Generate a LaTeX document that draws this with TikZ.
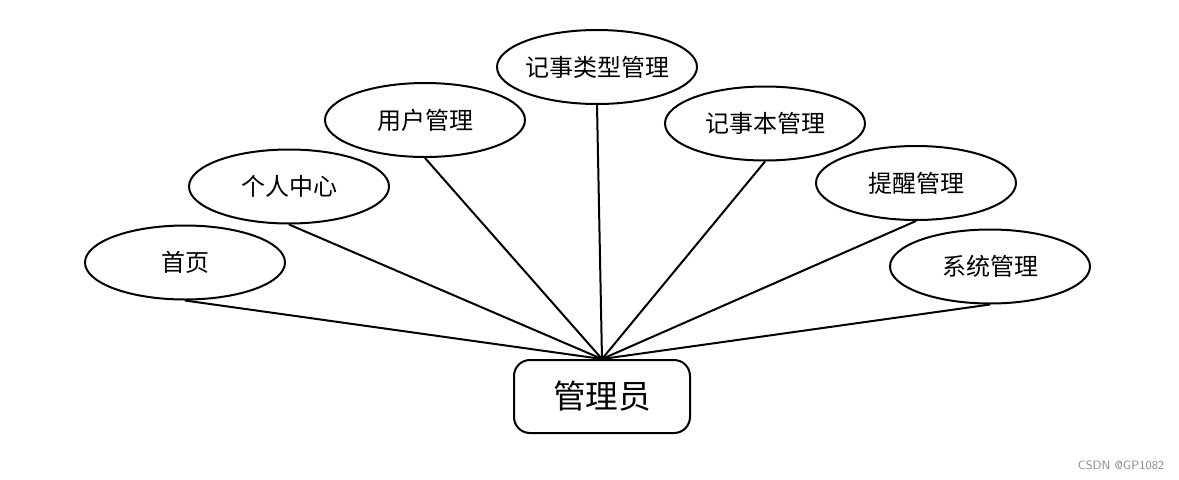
\documentclass[tikz,border=0pt]{standalone}
\usepackage{fontspec}
\newfontfamily\cjk{Noto Sans CJK SC}
\usetikzlibrary{shapes.geometric}
\tikzset{every picture/.style={line width=0.75pt}}
\tikzset{
  func/.style={draw, ellipse, line width=1.5pt, minimum width=150pt, minimum height=55.5pt, inner ysep=0pt, inner xsep=-2pt, font=\cjk\fontsize{18}{21}\selectfont},
  role/.style={draw, rounded corners=12pt, line width=1.5pt, minimum width=132pt, minimum height=54.75pt, inner sep=0pt, font=\cjk\fontsize{24.5}{28}\selectfont},
  link/.style={line width=1.5pt}
}
\begin{document}
\begin{tikzpicture}[x=0.75pt,y=0.75pt,yscale=-1,xscale=1]
\useasboundingbox (0,0) rectangle (1179,479);

%Shape: Rounded Rect
\node [role] (admin) at (602,396.5) {管理员};

%Shape: Ellipses
\node [func] (home) at (185,262.5) {首页};
\node [func] (center) at (289,186.5) {个人中心};
\node [func] (user) at (425,120) {用户管理};
\node [func] (type) at (597,67) {记事类型管理};
\node [func] (note) at (765,123.5) {记事本管理};
\node [func] (remind) at (916,183) {提醒管理};
\node [func] (sys) at (990,266.5) {系统管理};

%Straight Lines
\foreach \f in {home,center,user,type,note,remind,sys}
  \draw [link] (\f.south) -- (admin.north);

% Text Node
\node [text=black!45, font=\sffamily\fontsize{9.1}{11}\selectfont] (mark) at (1121,465) {CSDN @GP1082};

\end{tikzpicture}
\end{document}
